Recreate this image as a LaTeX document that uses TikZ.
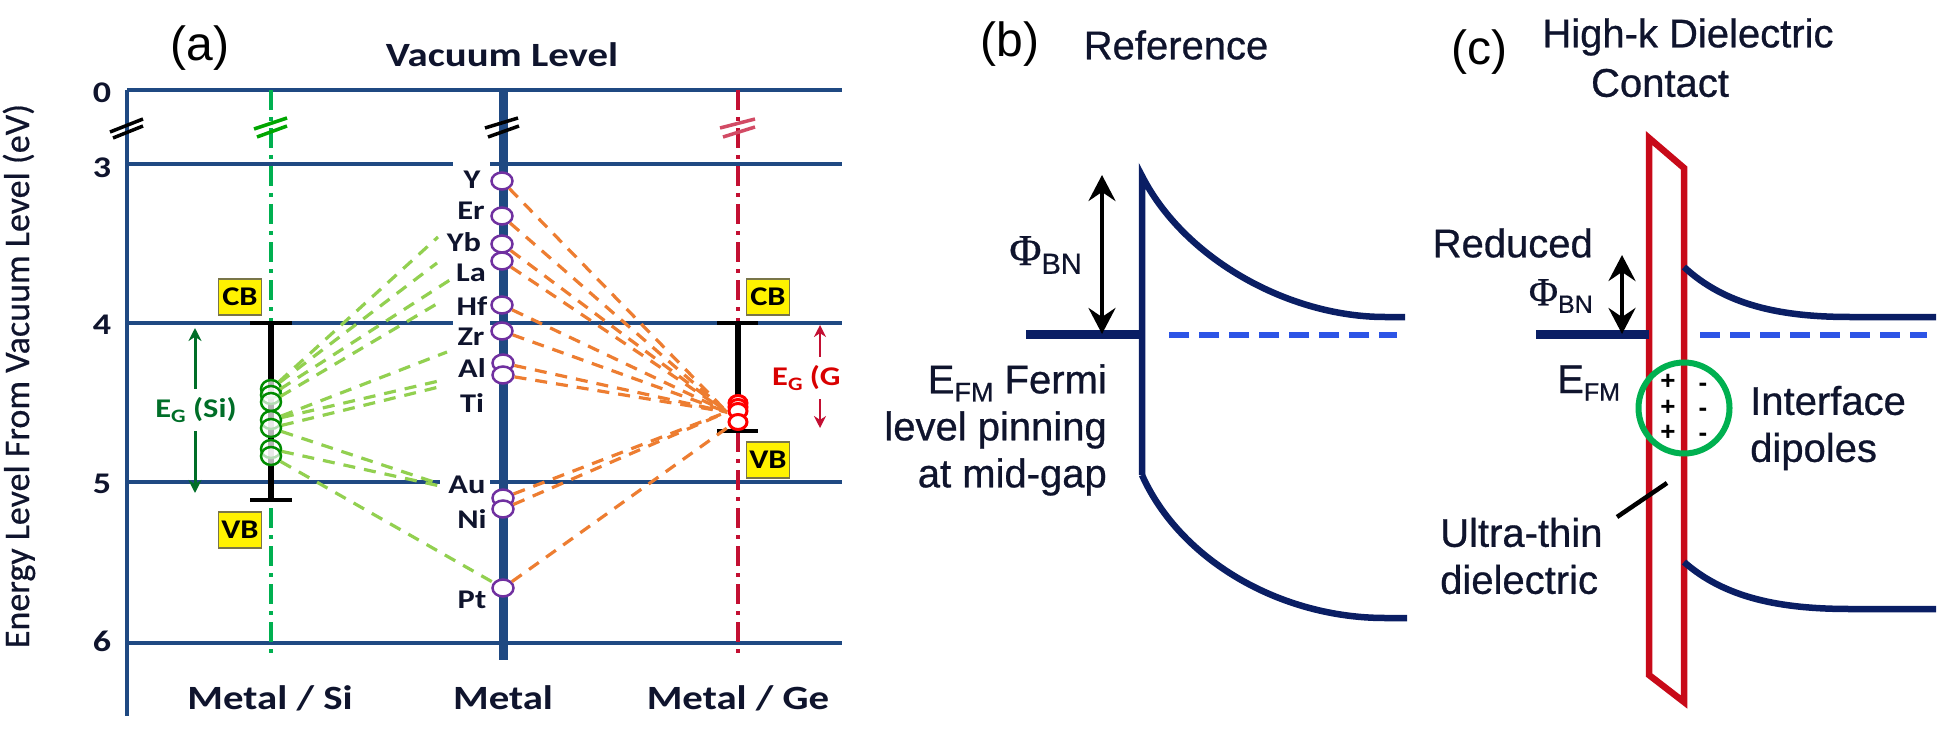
\documentclass[tikz,border=0pt]{standalone}
\usepackage{fontspec}
\setmainfont{Liberation Sans}
\newfontfamily\heavyfont{Liberation Sans}[FakeBold=0.7]
\newfontfamily\barefont{Carlito}[FakeBold=0.5]
\newfontfamily\widefont{Carlito}[FakeStretch=1.2]
\newfontfamily\phifont{Liberation Serif}[FakeBold=0.5]
\usetikzlibrary{arrows.meta,shapes.geometric}
\definecolor{gridblue}{RGB}{31,73,130}
\definecolor{bandnavy}{RGB}{10,30,100}
\definecolor{fermiblue}{RGB}{45,85,230}
\definecolor{sigreen}{RGB}{0,176,80}
\definecolor{siink}{RGB}{0,110,40}
\definecolor{silight}{RGB}{146,208,80}
\definecolor{gecrimson}{RGB}{195,15,50}
\definecolor{georange}{RGB}{237,125,49}
\definecolor{metalviolet}{RGB}{112,48,160}
\definecolor{barrierred}{RGB}{200,10,25}
\definecolor{inkdark}{RGB}{15,20,45}
\newcommand{\lowtxt}[2]{{\fontsize{#1}{#1}\selectfont\raisebox{-0.3em}{#2}}}

\begin{document}
\begin{tikzpicture}[
    x=1pt, y=-1pt,
    gridln/.style={gridblue, line width=3.6pt},
    brk/.style={line width=3.5pt},
    axdash/.style={line width=3.2pt, dash pattern=on 20pt off 7pt on 4pt off 7pt},
    bar/.style={black, line width=6.5pt},
    capln/.style={black, line width=4pt},
    greendash/.style={silight, line width=3.2pt, dash pattern=on 12pt off 9pt},
    orangedash/.style={georange, line width=3.2pt, dash pattern=on 12pt off 9pt},
    metaldot/.style={draw=metalviolet, fill=white, ellipse, line width=2.5pt, minimum width=21pt, minimum height=17pt, inner sep=0pt},
    sidot/.style={draw=green!55!black, fill=white, fill opacity=0.7, ellipse, line width=2.5pt, minimum width=20pt, minimum height=18pt, inner sep=0pt},
    gedot/.style={draw=red, fill=white, ellipse, line width=3pt, minimum width=18pt, minimum height=15pt, inner sep=0pt},
    boldlab/.style={text=inkdark, inner sep=0pt, font=\widefont\bfseries\fontsize{34}{36}\selectfont},
    ticklab/.style={text=inkdark, inner sep=0pt, font=\widefont\bfseries\fontsize{30}{32}\selectfont},
    metallab/.style={text=inkdark, inner sep=0pt, font=\widefont\bfseries\fontsize{27}{30}\selectfont},
    bandtag/.style={draw=black!60!yellow, fill=yellow, line width=1.5pt, minimum width=43pt, minimum height=36pt, inner sep=0pt, text=black, font=\widefont\bfseries\fontsize{27}{30}\selectfont},
    gaplab/.style={inner sep=0pt, minimum height=42pt, font=\widefont\bfseries\fontsize{27}{30}\selectfont},
    panel/.style={inner sep=0pt, font=\fontsize{48}{52}\selectfont},
    bigtxt/.style={text=inkdark, inner sep=0pt, align=left, font=\heavyfont\fontsize{40}{47}\selectfont},
    band/.style={bandnavy, line width=6.5pt},
    fermi/.style={bandnavy, line width=9pt},
    fermidash/.style={fermiblue, line width=6pt, dash pattern=on 20pt off 10pt},
    dblarr/.style={{Stealth[length=26pt,width=27pt,inset=9pt]}-{Stealth[length=26pt,width=27pt,inset=9pt]}, line width=4pt},
    ebar/.style={barrierred, line width=6.5pt, line join=miter}
]
\useasboundingbox (0,0) rectangle (1946,730);

% panel a
\draw[gridln] (127,90) -- (842,90);
\draw[gridln] (127,164) -- (453,164) (490,164) -- (842,164);
\draw[gridln] (127,323) -- (453,323) (490,323) -- (842,323);
\draw[gridln] (127,482) -- (440,482) (490,482) -- (842,482);
\draw[gridln] (127,643) -- (842,643);
\draw[gridblue, line width=4pt] (127,90) -- (127,716);
\draw[gridblue, line width=9pt] (503,90) -- (503,660);
\draw[axdash, sigreen] (271,90) -- (271,660);
\draw[axdash, gecrimson] (738,90) -- (738,660);
\draw[brk] (110,132) -- (143,119) (113,138) -- (143,126);
\draw[brk, green!65!black] (254,129) -- (287,118) (257,137) -- (287,126);
\draw[brk] (485,128) -- (518,118) (488,137) -- (519,126);
\draw[brk, gecrimson!75!white] (720,128) -- (755,119) (723,137) -- (755,127);

\node[rotate=90, inner sep=0pt, text=inkdark, font=\barefont\fontsize{36}{38}\selectfont] (ylab) at (19,376) {Energy Level From Vacuum Level (eV)};
\node[panel] (pa) at (200,48) {(a)};
\node[boldlab] (vac) at (502,55) {Vacuum Level};
\node[ticklab] (t0) at (102,93) {0};
\node[ticklab] (t3) at (102,168) {3};
\node[ticklab] (t4) at (102,325) {4};
\node[ticklab] (t5) at (102,484) {5};
\node[ticklab] (t6) at (102,641) {6};
\node[boldlab] (msi) at (270,698) {Metal / Si};
\node[boldlab] (mm) at (503,698) {Metal};
\node[boldlab] (mge) at (738,698) {Metal / Ge};

\draw[bar] (271,323) -- (271,500);
\draw[capln] (250,323) -- (292,323);
\draw[capln] (250,500) -- (292,500);
\draw[bar] (738,323) -- (738,430);
\draw[capln] (717,323) -- (758,323);
\draw[capln] (717,431) -- (758,431);

\node[bandtag] (cbsi) at (240,297) {CB};
\node[bandtag] (vbsi) at (240,530) {VB};
\node[bandtag] (cbge) at (768,297) {CB};
\node[bandtag] (vbge) at (768,460) {VB};

\node[metallab] (lY) at (472,180) {Y};
\node[metallab] (lEr) at (471,211) {Er};
\node[metallab] (lYb) at (464,242) {Yb};
\node[metallab] (lLa) at (471,273) {La};
\node[metallab] (lHf) at (472,306) {Hf};
\node[metallab] (lZr) at (471,337) {Zr};
\node[metallab] (lAl) at (472,368) {Al};
\node[metallab] (lTi) at (472,403) {Ti};
\node[metallab] (lAu) at (467,485) {Au};
\node[metallab] (lNi) at (472,519) {Ni};
\node[metallab] (lPt) at (472,600) {Pt};

\node[metaldot] (mY) at (502,181) {};
\node[metaldot] (mEr) at (502,216) {};
\node[metaldot] (mYb) at (502,244) {};
\node[metaldot] (mLa) at (502,261) {};
\node[metaldot] (mHf) at (502,305) {};
\node[metaldot] (mZr) at (502,331) {};
\node[metaldot] (mAl) at (503,363) {};
\node[metaldot] (mTi) at (503,375) {};
\node[metaldot] (mAu) at (503,498) {};
\node[metaldot] (mNi) at (503,509) {};
\node[metaldot] (mPt) at (503,588) {};

\node[sidot] (s1) at (271,389) {};
\node[sidot] (s2) at (271,395) {};
\node[sidot] (s3) at (271,402) {};
\node[sidot] (s4) at (271,420) {};
\node[sidot] (s5) at (271,428) {};
\node[sidot] (s6) at (271,449) {};
\node[sidot] (s7) at (271,456) {};

\node[gedot] (g1) at (738,403) {};
\node[gedot] (g2) at (738,407) {};
\node[gedot] (g3) at (738,411) {};
\node[gedot] (g4) at (738,422) {};

\coordinate (gehub) at (727,412);
\coordinate (gehubl) at (727,428);
\draw[orangedash] (mY) -- (gehub);
\draw[orangedash] (mEr) -- (gehub);
\draw[orangedash] (mYb) -- (gehub);
\draw[orangedash] (mLa) -- (gehub);
\draw[orangedash] (mHf) -- (gehub);
\draw[orangedash] (mZr) -- (gehub);
\draw[orangedash] (mAl) -- (gehub);
\draw[orangedash] (mTi) -- (gehub);
\draw[orangedash] (mAu) -- (gehub);
\draw[orangedash] (mNi) -- (gehub);
\draw[orangedash] (mPt) -- (gehubl);

\coordinate (eYb) at (438,237);
\coordinate (eLa) at (437,263);
\coordinate (eHf) at (453,278);
\coordinate (eHg) at (440,302);
\coordinate (eZr) at (447,352);
\coordinate (eAl) at (443,380);
\coordinate (eTi) at (443,386);
\coordinate (eAu) at (440,484);
\coordinate (eNi) at (440,486);
\draw[greendash] (s1) -- (eYb);
\draw[greendash] (s1) -- (eLa);
\draw[greendash] (s2) -- (eHf);
\draw[greendash] (s3) -- (eHg);
\draw[greendash] (s4) -- (eZr);
\draw[greendash] (s4) -- (eAl);
\draw[greendash] (s5) -- (eTi);
\draw[greendash] (s5) -- (eAu);
\draw[greendash] (s6) -- (eNi);
\draw[greendash] (s7) -- (mPt);

\node[gaplab, text=siink] (egsi) at (196,410) {E\lowtxt{19}{G} (Si)};
\coordinate (sitop) at (195,328);
\coordinate (sibot) at (195,493);
\draw[siink, line width=3pt, -{Stealth[length=13pt,width=13pt]}] (egsi.north -| sitop) -- (sitop);
\draw[siink, line width=3pt, -{Stealth[length=13pt,width=13pt]}] (egsi.south -| sibot) -- (sibot);
\node[gaplab, text=red!85!black, anchor=west] (egge) at (772,378) {E\lowtxt{19}{G} (G};
\coordinate (getop) at (820,325);
\coordinate (gebot) at (820,428);
\draw[gecrimson, line width=2.5pt, -{Stealth[length=12pt,width=12pt]}] (egge.north -| getop) -- (getop);
\draw[gecrimson, line width=2.5pt, -{Stealth[length=12pt,width=12pt]}] (egge.south -| gebot) -- (gebot);

% panel b
\node[panel] (pb) at (1010,44) {(b)};
\node[bigtxt] (refb) at (1176,45) {Reference};
\draw[band, line join=miter] (1142,475) -- (1142,176) .. controls (1185,260) and (1290,317) .. (1385,317) -- (1405,317);
\draw[band] (1142,475) .. controls (1180,560) and (1280,618) .. (1385,618) -- (1407,618);
\coordinate (fb0) at (1026,334);
\coordinate (fb1) at (1142,334);
\draw[fermi] (fb0) -- (fb1);
\coordinate (fbd0) at (1169,335);
\coordinate (fbd1) at (1397,335);
\draw[fermidash] (fbd0) -- (fbd1);
\coordinate (phib0) at (1102,175);
\coordinate (phib1) at (1102,334);
\draw[dblarr] (phib0) -- (phib1);
\node[bigtxt, anchor=east] (phib) at (1082,255) {{\phifont\fontsize{44}{47}\selectfont Φ}\lowtxt{29}{BN}};
\node[bigtxt, align=right, anchor=east] (pin) at (1107,430) {E\lowtxt{27}{FM} Fermi\\level pinning\\at mid-gap};

% panel c
\node[panel] (pc) at (1479,52) {(c)};
\node[bigtxt] (hik) at (1688,37) {High-k Dielectric};
\node[bigtxt] (cnt) at (1660,83) {Contact};
\draw[ebar] (1649,138) -- (1684,168) -- (1684,702) -- (1649,675) -- cycle;
\draw[band] (1684,267) .. controls (1725,305) and (1780,317) .. (1850,317) -- (1936,317);
\draw[band] (1684,562) .. controls (1725,598) and (1780,609) .. (1850,609) -- (1936,609);
\coordinate (fc0) at (1536,334);
\coordinate (fc1) at (1649,334);
\draw[fermi] (fc0) -- (fc1);
\coordinate (fcd0) at (1700,335);
\coordinate (fcd1) at (1927,335);
\draw[fermidash] (fcd0) -- (fcd1);
\coordinate (phic0) at (1622,255);
\coordinate (phic1) at (1622,334);
\draw[dblarr] (phic0) -- (phic1);
\node[bigtxt, anchor=east] (redu) at (1593,243) {Reduced};
\node[bigtxt, anchor=east] (phic) at (1593,296) {{\phifont Φ}\lowtxt{25}{BN}};
\node[bigtxt, anchor=west] (efm) at (1557,383) {E\lowtxt{25}{FM}};
\node[draw=sigreen, line width=6pt, circle, minimum size=91pt, inner sep=0pt] (dip) at (1684,408) {};
\node[inner sep=0pt, font=\bfseries\fontsize{26}{28}\selectfont] (p1) at (1668,382) {+};
\node[inner sep=0pt, font=\bfseries\fontsize{26}{28}\selectfont] (p2) at (1668,408) {+};
\node[inner sep=0pt, font=\bfseries\fontsize{26}{28}\selectfont] (p3) at (1668,433) {+};
\node[inner sep=0pt, font=\bfseries\fontsize{26}{28}\selectfont] (n1) at (1703,387) {-};
\node[inner sep=0pt, font=\bfseries\fontsize{26}{28}\selectfont] (n2) at (1703,412) {-};
\node[inner sep=0pt, font=\bfseries\fontsize{26}{28}\selectfont] (n3) at (1703,437) {-};
\node[bigtxt, anchor=west] (ifd) at (1750,428) {Interface\\dipoles};
\node[bigtxt, anchor=west] (utd) at (1440,556) {Ultra-thin\\dielectric};
\coordinate (ustart) at (1617,517);
\coordinate (utip) at (1667,483);
\draw[black, line width=4.5pt] (ustart) -- (utip);
\end{tikzpicture}
\end{document}
